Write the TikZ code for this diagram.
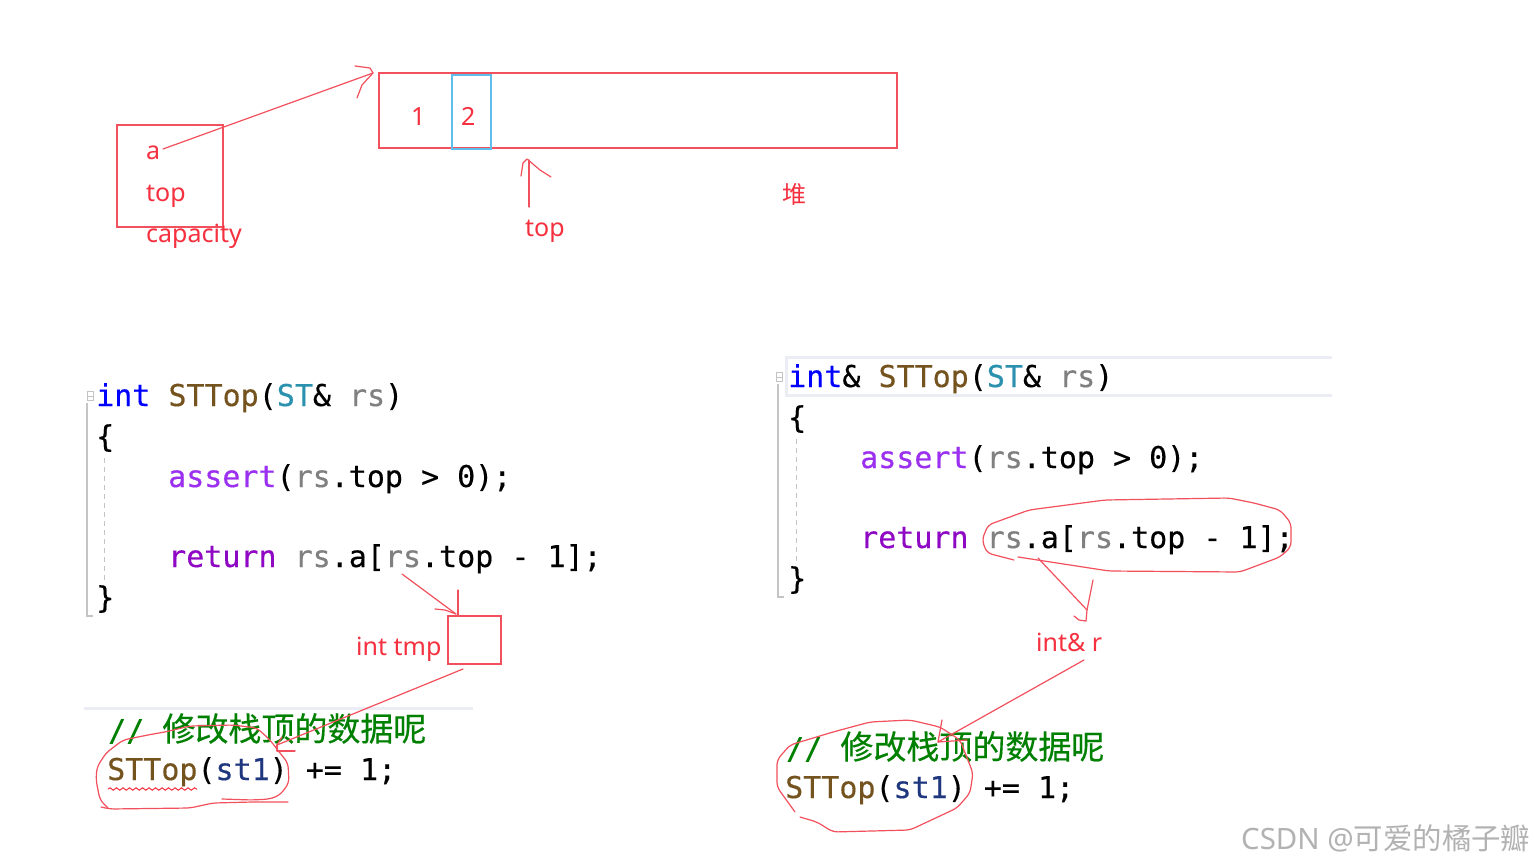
\documentclass[tikz,border=0pt]{standalone}
\usepackage{fontspec}
\usetikzlibrary{decorations.pathmorphing}
\setmainfont{Noto Sans}
\newfontfamily\monof[FakeBold=0.4]{DejaVu Sans Mono}
\newfontfamily\cjkf[FakeBold=0.3]{Noto Sans CJK SC}
\newfontfamily\cjkplain{Noto Sans CJK SC}
\definecolor{inkred}{HTML}{F5303F}
\definecolor{penred}{HTML}{F2505C}
\definecolor{cellblue}{HTML}{5FBDEB}
\definecolor{kwblue}{HTML}{0000FF}
\definecolor{fnbrown}{HTML}{74531F}
\definecolor{typeteal}{HTML}{2B91AF}
\definecolor{vargrey}{HTML}{808080}
\definecolor{macpurple}{HTML}{9B30F0}
\definecolor{retpurple}{HTML}{8F08C4}
\definecolor{argblue}{HTML}{1F377F}
\definecolor{cmtgreen}{HTML}{008000}
\definecolor{guide}{HTML}{C4C4C4}
\definecolor{hilite}{HTML}{ECECF4}
\newcommand{\kwc}[1]{\textcolor{kwblue}{#1}}
\newcommand{\fnc}[1]{\textcolor{fnbrown}{#1}}
\newcommand{\tyc}[1]{\textcolor{typeteal}{#1}}
\newcommand{\vrc}[1]{\textcolor{vargrey}{#1}}
\newcommand{\mac}[1]{\textcolor{macpurple}{#1}}
\newcommand{\rtc}[1]{\textcolor{retpurple}{#1}}
\newcommand{\agc}[1]{\textcolor{argblue}{#1}}
\tikzset{
  codeline/.style={inner sep=0pt,anchor=base west,font=\monof\fontsize{30}{36}\selectfont},
  cmtline/.style={inner sep=0pt,anchor=base west,text=cmtgreen,font=\fontsize{33}{38}\selectfont},
  redlabel/.style={inner sep=0pt,anchor=base west,text=inkred,font=\fontsize{25}{30}\selectfont},
  redbox/.style={draw=penred,line width=1.5pt,inner sep=0pt,outer sep=0pt,anchor=north west},
  pen/.style={draw=penred,line width=1.2pt,line join=round,line cap=round},
  oval/.style={pen,rounded corners=5pt},
  gutter/.style={draw=guide,line width=1.4pt},
  indentguide/.style={draw=guide,line width=1pt,dash pattern=on 5pt off 4pt},
  hiliteline/.style={draw=hilite,line width=3pt},
  foldbox/.style={draw=guide,line width=1pt,fill=white,inner sep=0pt,minimum width=6pt,minimum height=9pt}
}
\begin{document}
\begin{tikzpicture}[x=1pt,y=-1pt]
\useasboundingbox[fill=white] (0,0) rectangle (1534,865);

% top diagram
\node[redbox,minimum width=106pt,minimum height=102pt] (structbox) at (117,125) {};
\node[redbox,minimum width=518pt,minimum height=75pt] (heapbox) at (379,73) {};
\node[draw=cellblue,line width=1.5pt,inner sep=0pt,outer sep=0pt,anchor=north west,minimum width=39pt,minimum height=74pt] (curcell) at (452,75) {};
\node[redlabel] (la) at (146,159) {a};
\node[redlabel] (ltop) at (146,201) {top};
\node[redlabel] (lcap) at (146,242) {capacity};
\node[redlabel] (lone) at (411,125) {1};
\node[redlabel] (ltwo) at (461,125) {2};
\node[redlabel] (lptr) at (525,236) {top};
\node[redlabel,font=\cjkplain\fontsize{24}{30}\selectfont] (lheap) at (782,203) {堆};

\coordinate (aStart) at (163,149);
\coordinate (heapTip) at (373,73);
\draw[pen] (aStart) -- (heapTip);
\draw[pen] (355,66) -- (370,68) -- (heapTip) -- (362,85) -- (357,98);
\coordinate (topStart) at (529,207);
\coordinate (topTip) at (529,160);
\draw[pen] (topStart) -- (topTip);
\draw[pen] (521,176) -- (523,163) -- (527,159) -- (540,170) -- (551,177);

% left code
\node[codeline] (l1) at (96,406) {\kwc{int} \fnc{STTop}(\tyc{ST}\& \vrc{rs})};
\node[codeline] (l2) at (96,447) {\{};
\node[codeline] (l3) at (168,487) {\mac{assert}(\vrc{rs}.top > 0);};
\node[codeline] (l4) at (168,567) {\rtc{return} \vrc{rs}.a[\vrc{rs}.top - 1];};
\node[codeline] (l5) at (96,608) {\}};
\draw[gutter] (87,403) -- (87,616) -- (93,616);
\node[foldbox] (lfold) at (90,396) {};
\draw[guide,line width=1pt] (lfold.west) -- (lfold.east);
\draw[indentguide] (104,458) -- (104,580);

% right code
\draw[hiliteline] (1332,357.5) -- (786,357.5) -- (786,395.5) -- (1332,395.5);
\node[codeline] (r1) at (788,387) {\kwc{int}\& \fnc{STTop}(\tyc{ST}\& \vrc{rs})};
\node[codeline] (r2) at (788,428) {\{};
\node[codeline] (r3) at (860,468) {\mac{assert}(\vrc{rs}.top > 0);};
\node[codeline] (r4) at (860,548) {\rtc{return} \vrc{rs}.a[\vrc{rs}.top - 1];};
\node[codeline] (r5) at (788,589) {\}};
\draw[gutter] (778,384) -- (778,597) -- (784,597);
\node[foldbox] (rfold) at (779,377) {};
\draw[guide,line width=1pt] (rfold.west) -- (rfold.east);
\draw[indentguide] (796,439) -- (796,561);

% bottom left code
\draw[hiliteline] (84,708) -- (473,708);
\node[cmtline] (c1) at (108,741) {{\monof\fontsize{30}{36}\selectfont//\ }{\cjkf 修改栈顶的数据呢}};
\node[codeline] (c2) at (107,780) {\fnc{STTop}(\agc{st1}) += 1;};
\draw[draw=inkred,line width=1pt,decorate,decoration={snake,amplitude=1.2pt,segment length=6.5pt}] (108,789) -- (197,789);

% bottom right code
\node[cmtline] (d1) at (786,759) {{\monof\fontsize{30}{36}\selectfont//\ }{\cjkf 修改栈顶的数据呢}};
\node[codeline] (d2) at (785,798) {\fnc{STTop}(\agc{st1}) += 1;};

% temp box and labels
\node[redbox,minimum width=53pt,minimum height=48pt] (tmpbox) at (448,616) {};
\node[redlabel] (ltmp) at (356,655) {int tmp};
\node[redlabel] (lref) at (1036,651) {int\& r};

% left: from expression to temp
\coordinate (rsStart) at (402,574);
\coordinate (tmpTip) at (456,614);
\draw[pen] (rsStart) -- (tmpTip);
\draw[pen] (458,590) -- (458,616);
\draw[pen] (435,609) -- (445,610) -- (tmpTip);
% left: from temp to call
\coordinate (tmpOut) at (463,669);
\coordinate (callTip) at (277,745);
\draw[pen] (tmpOut) -- (callTip);
\draw[pen] (277,745) -- (277,751) -- (295,751);
\draw[pen] (277,745) -- (282,737);
% left oval
\draw[oval] (222,799) -- (252,800) -- (270,799) -- (280,795) -- (289,783) -- (288,763) -- (280,753) -- (270,740) -- (257,728) -- (233,725) -- (190,726) -- (165,732) -- (153,734) -- (123,740) -- (106,753) -- (97,767) -- (96,780) -- (100,800) -- (108,808);
\draw[oval] (288,802) -- (252,802) -- (213,803) -- (190,808) -- (110,809) -- (101,807);

% right: from expression to reference
\coordinate (exprStart) at (1038,558);
\coordinate (refTip) at (1087,610);
\draw[pen] (exprStart) -- (refTip);
\draw[pen] (1093,580) -- (1087,610) -- (1086,621) -- (1079,620) -- (1074,616);
% right: from reference to call
\coordinate (refOut) at (1084,660);
\coordinate (call2Tip) at (938,742);
\draw[pen] (refOut) -- (call2Tip);
\draw[pen] (942,720) -- (938,742) -- (967,740);
% right ovals
\draw[oval] (1018,557) -- (1109,571) -- (1240,572) -- (1280,557) -- (1291,547) -- (1291,523) -- (1280,510) -- (1254,503) -- (1229,498) -- (1105,500) -- (1029,510) -- (988,525) -- (982,540) -- (987,553) -- (1014,560);
\draw[oval] (795,812) -- (777,787) -- (777,760) -- (790,745) -- (833,732) -- (870,722) -- (910,720) -- (940,727) -- (960,740) -- (973,773) -- (970,793) -- (957,808) -- (910,830) -- (833,832) -- (817,822) -- (800,817);

% watermark
\node[inner sep=0pt,anchor=base west,text=black!30,font=\fontsize{29.4}{32}\selectfont] (mark) at (1241,849) {CSDN @{\cjkplain 可爱的橘子瓣}};
\end{tikzpicture}
\end{document}
